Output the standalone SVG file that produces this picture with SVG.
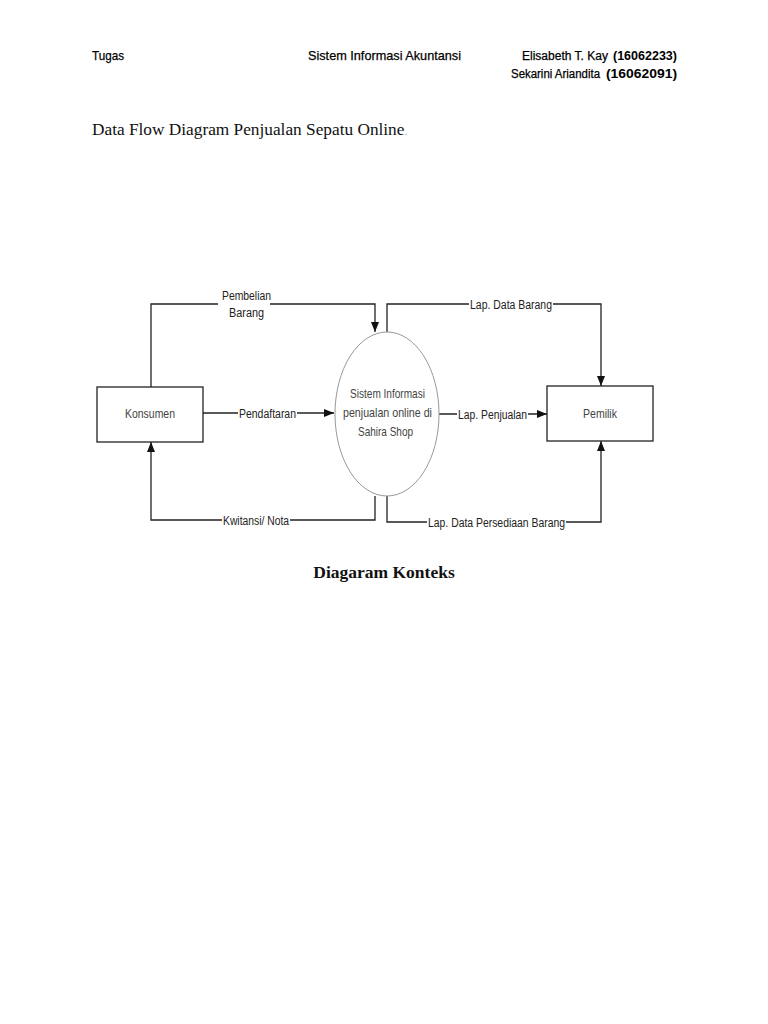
<svg xmlns="http://www.w3.org/2000/svg" width="768" height="1024" viewBox="0 0 768 1024">
<style>
.hdr{font-family:"Liberation Sans",Arial,sans-serif;font-size:13.5px;fill:#000;stroke:#000;stroke-width:0.25}
.hr{font-size:12px}
.hb{font-weight:bold;stroke-width:0;font-size:13px}
.lbl{font-family:"Liberation Sans",Arial,sans-serif;font-size:12.5px;fill:#222}
.ntx{font-family:"Liberation Sans",Arial,sans-serif;font-size:13px;fill:#444}
.flow{fill:none;stroke:#222;stroke-width:1.3}
.box{fill:#fff;stroke:#222;stroke-width:1.3}
.proc{fill:#fff;stroke:#999;stroke-width:1}
.bg{fill:#fff}
</style>
<defs>
<marker id="arr" markerUnits="userSpaceOnUse" markerWidth="10" markerHeight="8" refX="10" refY="4" orient="auto">
<path d="M0,0 L10,4 L0,8 z" fill="#111"/>
</marker>
</defs>
<rect width="768" height="1024" fill="#fff"/>
<g id="header">
<text class="hdr" x="92" y="60" textLength="32" lengthAdjust="spacingAndGlyphs">Tugas</text>
<text class="hdr" x="308" y="60" textLength="153" lengthAdjust="spacingAndGlyphs">Sistem Informasi Akuntansi</text>
<text class="hdr hr" x="522" y="60" textLength="86" lengthAdjust="spacingAndGlyphs">Elisabeth T. Kay</text>
<text class="hdr hb" x="613" y="60" textLength="64" lengthAdjust="spacingAndGlyphs">(16062233)</text>
<text class="hdr hr" x="511" y="78" textLength="89" lengthAdjust="spacingAndGlyphs">Sekarini Ariandita</text>
<text class="hdr hb" x="606" y="78" textLength="71" lengthAdjust="spacingAndGlyphs">(16062091)</text>
<text x="92" y="135" font-family="'Liberation Serif','Times New Roman',serif" font-size="17.3" fill="#111">Data Flow Diagram Penjualan Sepatu Online<tspan fill="#999" font-size="11">.</tspan></text>
</g>
<g id="connectors">
<g id="c-pembelian">
<path class="flow" d="M151,387 V304 H375 V332" marker-end="url(#arr)"/>
<rect class="bg" x="218" y="289" width="52" height="31"/>
<text class="lbl" x="222" y="300" textLength="49" lengthAdjust="spacingAndGlyphs">Pembelian</text>
<text class="lbl" x="229" y="317" textLength="35" lengthAdjust="spacingAndGlyphs">Barang</text>
</g>
<g id="c-pendaftaran">
<path class="flow" d="M203,413 H334" marker-end="url(#arr)"/>
<rect class="bg" x="238" y="405" width="59" height="16"/>
<text class="lbl" x="239" y="418" textLength="57" lengthAdjust="spacingAndGlyphs">Pendaftaran</text>
</g>
<g id="c-kwitansi">
<path class="flow" d="M375,496 V520 H151 V442" marker-end="url(#arr)"/>
<rect class="bg" x="222" y="512" width="68" height="16"/>
<text class="lbl" x="223" y="525" textLength="66" lengthAdjust="spacingAndGlyphs">Kwitansi/ Nota</text>
</g>
<g id="c-lapdatabarang">
<path class="flow" d="M387,332 V304 H601 V386" marker-end="url(#arr)"/>
<rect class="bg" x="469" y="296" width="84" height="16"/>
<text class="lbl" x="470" y="309" textLength="82" lengthAdjust="spacingAndGlyphs">Lap. Data Barang</text>
</g>
<g id="c-lappenjualan">
<path class="flow" d="M439,414 H547" marker-end="url(#arr)"/>
<rect class="bg" x="457" y="406" width="71" height="16"/>
<text class="lbl" x="458" y="419" textLength="69" lengthAdjust="spacingAndGlyphs">Lap. Penjualan</text>
</g>
<g id="c-lappersediaan">
<path class="flow" d="M387,496 V522 H601 V441" marker-end="url(#arr)"/>
<rect class="bg" x="427" y="514" width="139" height="16"/>
<text class="lbl" x="428" y="527" textLength="137" lengthAdjust="spacingAndGlyphs">Lap. Data Persediaan Barang</text>
</g>
</g>
<g id="konsumen">
<rect class="box" x="97" y="387" width="106" height="55"/>
<text class="ntx" x="125" y="418" textLength="50" lengthAdjust="spacingAndGlyphs">Konsumen</text>
</g>
<g id="sistem">
<ellipse class="proc" cx="387" cy="414" rx="52" ry="82"/>
<text class="ntx" x="350" y="398" textLength="75" lengthAdjust="spacingAndGlyphs">Sistem Informasi</text>
<text class="ntx" x="343" y="417" textLength="89" lengthAdjust="spacingAndGlyphs">penjualan online di</text>
<text class="ntx" x="358" y="436" textLength="55" lengthAdjust="spacingAndGlyphs">Sahira Shop</text>
</g>
<g id="pemilik">
<rect class="box" x="547" y="386" width="106" height="55"/>
<text class="ntx" x="583" y="418" textLength="34" lengthAdjust="spacingAndGlyphs">Pemilik</text>
</g>
<g id="caption">
<text x="384" y="578" text-anchor="middle" font-family="'Liberation Serif','Times New Roman',serif" font-size="17.5" font-weight="bold" fill="#111">Diagaram Konteks</text>
</g>
</svg>
